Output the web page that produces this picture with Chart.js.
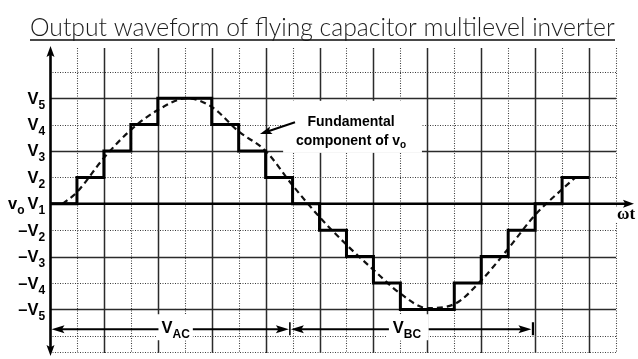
<!DOCTYPE html>
<html><head><meta charset="utf-8">
<script src="https://cdn.jsdelivr.net/npm/chart.js@4.4.1/dist/chart.umd.min.js"></script>
<style>html,body{margin:0;padding:0;background:#fff;overflow:hidden}canvas{display:block}</style>
</head><body>
<canvas id="c" width="638" height="359"></canvas>
<script>
const titleText = 'Output waveform of flying capacitor multilevel inverter';
// staircase output: x (grid units) where each level starts, and the level held from there
const stepX = [0,1,2,3,4,6,7,8,9,10,11,12,13,15,16,17,18,19,20];
const stepLevel = [0,1,2,3,4,3,2,1,0,-1,-2,-3,-4,-3,-2,-1,0,1,1];
// fundamental component (dashed)
const fundX = [0.47,1,2,3,4,5.1,6,7,8,9,10,11,12,13,14,15,16,17,18,19,19.5];
const fundY = [0,0.44,1.74,2.8,3.55,4.0,3.67,2.74,2.0,0.7,-0.5,-1.55,-2.5,-3.4,-3.95,-3.8,-2.9,-1.7,-0.42,0.55,1.0];
// y level tick labels
const levelValues = [4,3,2,1,0,-1,-2,-3,-4];
const levelMain = ['V','V','V','V','V','\u2013V','\u2013V','\u2013V','\u2013V'];
const levelSub = ['5','4','3','2','1','2','3','4','5'];
// annotation spans (grid units)
const vacSpan = [0, 8.9];
const vbcSpan = [8.9, 17.9];

const SANS = '"Liberation Sans", Arial, Helvetica, sans-serif';

function head(ctx, tx, ty, ang, len, hw){
  ctx.save(); ctx.translate(tx, ty); ctx.rotate(ang);
  ctx.beginPath(); ctx.moveTo(0,0); ctx.lineTo(-len, -hw); ctx.lineTo(-len*0.8, 0); ctx.lineTo(-len, hw); ctx.closePath();
  ctx.fill(); ctx.restore();
}
function line(ctx, x1,y1,x2,y2){ ctx.beginPath(); ctx.moveTo(x1,y1); ctx.lineTo(x2,y2); ctx.stroke(); }
function subText(ctx, main, sub, xj, base, mainSize, subSize, drop){
  ctx.font = 'bold '+mainSize+'px '+SANS; ctx.textAlign='right'; ctx.fillText(main, xj, base);
  ctx.font = 'bold '+subSize+'px '+SANS; ctx.textAlign='left'; ctx.fillText(sub, xj, base+drop);
}

const deco = {
  id:'deco',
  beforeDatasetsDraw(chart){
    const {ctx, chartArea:a, scales:{x,y}} = chart;
    ctx.save();
    // vertical grid
    for (let k=1;k<=21;k++){
      const px = Math.round(x.getPixelForValue(k))+0.5;
      if (k%2===0){ ctx.setLineDash([]); ctx.strokeStyle='#2b2b2b'; ctx.lineWidth=1.5; }
      else { ctx.setLineDash([1,1.5]); ctx.strokeStyle='#3a3a3a'; ctx.lineWidth=1.1; }
      line(ctx, px, a.top, px, a.bottom);
    }
    // horizontal grid
    for (let v=-5; v<=5; v++){
      if (v===0) continue;
      const py = Math.round(y.getPixelForValue(v))+0.5;
      if (v%2===0){ ctx.setLineDash([]); ctx.strokeStyle='#2b2b2b'; ctx.lineWidth=1.5; }
      else { ctx.setLineDash([1,1.5]); ctx.strokeStyle='#3a3a3a'; ctx.lineWidth=1.1; }
      line(ctx, a.left, py, a.right, py);
    }
    ctx.setLineDash([1,1.5]); ctx.strokeStyle='#444'; ctx.lineWidth=1;
    line(ctx, a.left, a.bottom-0.5, a.right, a.bottom-0.5);
    ctx.setLineDash([]);
    // white boxes behind texts
    ctx.fillStyle='#fff';
    const fx1 = x.getPixelForValue(8.65), fx2 = x.getPixelForValue(13.8);
    const fy1 = y.getPixelForValue(3.9), fy2 = y.getPixelForValue(1.93);
    ctx.fillRect(fx1, fy1, fx2-fx1, fy2-fy1);
    const ay = y.getPixelForValue(-4.75);
    const b1 = x.getPixelForValue(3.95), b2 = x.getPixelForValue(5.3);
    ctx.fillRect(b1, ay-15, b2-b1, 26);
    const c1 = x.getPixelForValue(12.5), c2 = x.getPixelForValue(14.05);
    ctx.fillRect(c1, ay-15, c2-c1, 26);
    // white patch for the omega-t label
    const y0 = y.getPixelForValue(0);
    ctx.fillRect(615, y0+3, 23, 16);
    // axes
    ctx.strokeStyle='#000'; ctx.fillStyle='#000';
    ctx.lineWidth=2.4; line(ctx, a.left, y0, 628, y0);
    head(ctx, 634, y0, 0, 11, 4);
    ctx.lineWidth=2.6; line(ctx, a.left+0.5, a.top+4, a.left+0.5, a.bottom-2);
    head(ctx, a.left+0.5, a.top-2, -Math.PI/2, 11, 4);
    head(ctx, a.left+0.5, a.bottom+3, Math.PI/2, 11, 4);
    ctx.restore();
  },
  afterDatasetsDraw(chart){
    const {ctx, chartArea:a, scales:{x,y}} = chart;
    ctx.save();
    ctx.fillStyle='#000'; ctx.strokeStyle='#000'; ctx.textBaseline='alphabetic';
    // level labels
    levelValues.forEach((v,i)=>{
      const py = y.getPixelForValue(v);
      subText(ctx, levelMain[i], levelSub[i], 38.5, py+5.5, 16.5, 12, 5);
    });
    // "vo" before V1
    const p0 = y.getPixelForValue(0);
    ctx.font='bold 16.5px '+SANS; ctx.textAlign='left'; ctx.fillText('v', 8, p0+5.5);
    const vw = ctx.measureText('v').width;
    ctx.font='bold 12px '+SANS; ctx.fillText('o', 8+vw, p0+10.5);
    // omega t (below the axis, at right)
    ctx.font='bold 17px "Liberation Serif", "DejaVu Serif", serif'; ctx.textAlign='left';
    ctx.fillText('\u03c9t', 617, p0+15);
    // Fundamental annotation
    const cx = x.getPixelForValue(11.17);
    ctx.font='bold 14px '+SANS; ctx.textAlign='center';
    ctx.fillText('Fundamental', cx, y.getPixelForValue(2.94));
    const l2 = 'component of v';
    const w2 = ctx.measureText(l2).width;
    ctx.font='bold 10px '+SANS; const wo = ctx.measureText('o').width;
    const sx = cx - (w2+wo)/2;
    ctx.font='bold 14px '+SANS; ctx.textAlign='left';
    ctx.fillText(l2, sx, y.getPixelForValue(2.22));
    ctx.font='bold 10px '+SANS; ctx.fillText('o', sx+w2, y.getPixelForValue(2.22)+3);
    // its arrow
    const tx1 = x.getPixelForValue(9.09), ty1 = y.getPixelForValue(3.09);
    const tx2 = x.getPixelForValue(7.79), ty2 = y.getPixelForValue(2.64);
    const ang = Math.atan2(ty2-ty1, tx2-tx1);
    ctx.lineWidth=2; line(ctx, tx1, ty1, tx2-Math.cos(ang)*8, ty2-Math.sin(ang)*8);
    head(ctx, tx2, ty2, ang, 12, 4);
    // VAC / VBC dimension arrows
    const ay = y.getPixelForValue(-4.75);
    const xa = x.getPixelForValue(vacSpan[0]), xm = x.getPixelForValue(vacSpan[1]), xb = x.getPixelForValue(vbcSpan[1]);
    ctx.lineWidth=2;
    line(ctx, xa+8, ay, x.getPixelForValue(3.95)+2, ay);
    line(ctx, x.getPixelForValue(5.3), ay, xm-8, ay);
    line(ctx, xm+8, ay, x.getPixelForValue(12.5)+2, ay);
    line(ctx, x.getPixelForValue(14.05), ay, xb-8, ay);
    head(ctx, xa+1.5, ay, Math.PI, 13, 4);
    head(ctx, xm-1, ay, 0, 13, 4);
    head(ctx, xm+1, ay, Math.PI, 13, 4);
    head(ctx, xb-1, ay, 0, 13, 4);
    ctx.lineWidth=1.6;
    line(ctx, xm, ay-7, xm, ay+6);
    ctx.lineWidth=2.2;
    line(ctx, xb+0.5, ay-7, xb+0.5, ay+6);
    subText(ctx, 'V', 'AC', x.getPixelForValue(3.95)+16, ay+4, 16.5, 12, 5);
    subText(ctx, 'V', 'BC', x.getPixelForValue(12.55)+15.5, ay+4, 16.5, 12, 5);
    ctx.restore();
  },
  afterDraw(chart){
    const ctx = chart.ctx;
    ctx.save();
    ctx.fillStyle='#1c1c1c';
    const fam = 'Lato, "Open Sans", sans-serif';
    ctx.font = '300 24px '+fam;
    const w = ctx.measureText(titleText).width;
    const size = 24*585/w;
    ctx.font = '300 '+size.toFixed(2)+'px '+fam;
    ctx.textAlign='left'; ctx.textBaseline='alphabetic';
    ctx.fillText(titleText, 30, 36);
    ctx.fillRect(30, 39.2, 585, 1.6);
    ctx.restore();
  }
};

new Chart(document.getElementById('c'), {
  type:'line',
  data:{ datasets:[
    {label:'vo', data: stepX.map((v,i)=>({x:v, y:stepLevel[i]})), stepped:true, borderColor:'#000', borderWidth:3,
     pointRadius:0, fill:false, borderJoinStyle:'miter', borderCapStyle:'butt'},
    {label:'fundamental', data: fundX.map((v,i)=>({x:v, y:fundY[i]})), borderColor:'#111', borderWidth:2.2,
     borderDash:[6,4], pointRadius:0, cubicInterpolationMode:'monotone', fill:false}
  ]},
  options:{
    responsive:false, animation:false, devicePixelRatio:1, events:[],
    layout:{padding:{left:50,right:22,top:48,bottom:6}},
    scales:{ x:{type:'linear', min:0, max:21, display:false}, y:{type:'linear', min:-5.65, max:5.9, display:false} },
    plugins:{ legend:{display:false}, tooltip:{enabled:false}, title:{display:false} }
  },
  plugins:[deco]
});
</script>
</body></html>
